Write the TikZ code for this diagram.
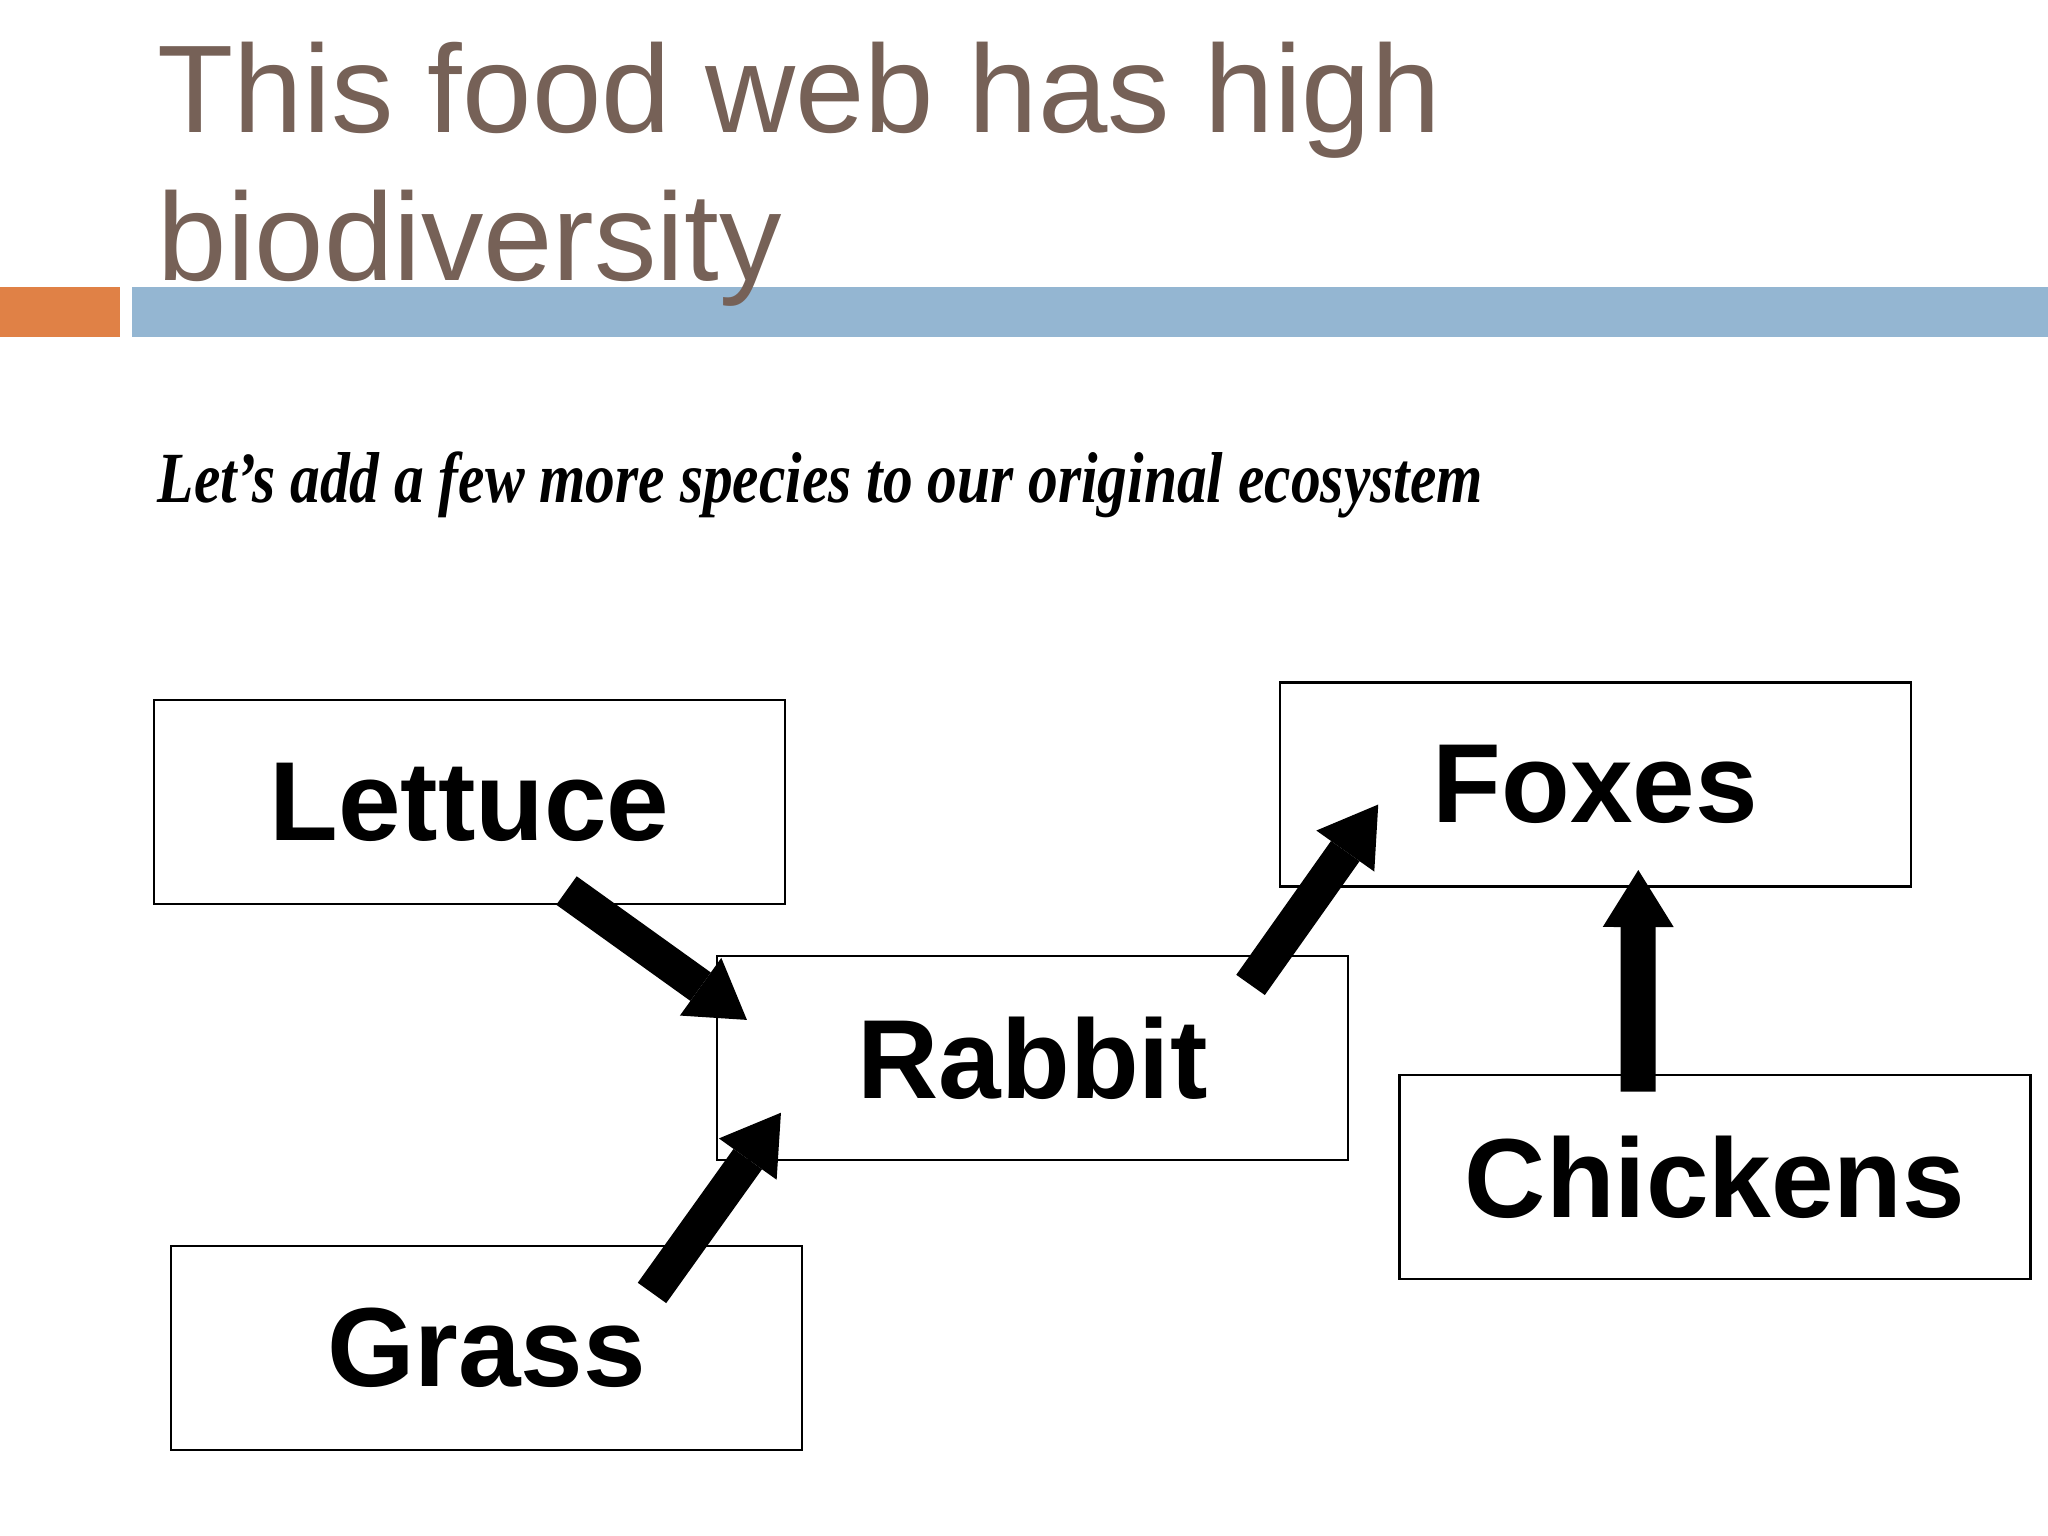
\documentclass[tikz,border=0pt]{standalone}
\usepackage{fontspec}
\setmainfont{Liberation Sans}
\newfontfamily\notefont{Liberation Serif}
\usetikzlibrary{arrows.meta}
\definecolor{titlebrown}{RGB}{118,97,87}
\definecolor{barorange}{RGB}{224,129,70}
\definecolor{barblue}{RGB}{148,182,210}

\begin{document}
\begin{tikzpicture}[
    species/.style={draw, line width=0.6pt, minimum width=6.31cm, minimum height=2.04cm,
        inner sep=0pt, font=\fontsize{32}{38}\selectfont\bfseries},
    feeds/.style={line width=0.35cm, -{Triangle[length=0.57cm,width=0.71cm,line width=0pt]}},
    headline/.style={anchor=base west, inner sep=0pt, text=titlebrown,
        font=\fontsize{35.5}{42}\selectfont}
]
    \fill[white] (0,0) rectangle (20.48,15.36);
    \useasboundingbox (0,0) rectangle (20.48,15.36);
    \fill[barorange] (0,11.99) rectangle (1.2,12.49);
    \fill[barblue] (1.32,11.99) rectangle (20.48,12.49);
    \node[headline] (title1) at (1.57,14.03) {This food web has high};
    \node[headline] (title2) at (1.57,12.55) {biodiversity};
    \node[anchor=base west, inner sep=0pt] (intro) at (1.57,10.33)
        {\resizebox{13.25cm}{\height}{\notefont\bfseries\itshape\fontsize{20.5}{24}\selectfont Let’s add a few more species to our original ecosystem}};

    \node[species] (lettuce) at (4.695,7.34) {Lettuce};
    \node[species] (rabbit) at (10.325,4.78) {Rabbit};
    \node[species] (foxes) at (15.955,7.515) {Foxes};
    \node[species] (chickens) at (17.15,3.59) {Chickens};
    \node[species] (grass) at (4.865,1.88) {Grass};

    \draw[feeds] ([xshift=0.97cm,yshift=0.145cm]lettuce.south) -- ([xshift=0.31cm,yshift=-0.65cm]rabbit.north west);
    \draw[feeds] ([xshift=1.655cm,yshift=-0.48cm]grass.north) -- ([xshift=0.65cm,yshift=0.483cm]rabbit.south west);
    \draw[feeds] ([xshift=-0.985cm,yshift=-0.3cm]rabbit.north east) -- ([xshift=0.993cm,yshift=0.83cm]foxes.south west);
    \draw[feeds] ([xshift=-0.77cm,yshift=-0.177cm]chickens.north) -- ([xshift=0.428cm,yshift=0.175cm]foxes.south);
\end{tikzpicture}
\end{document}
